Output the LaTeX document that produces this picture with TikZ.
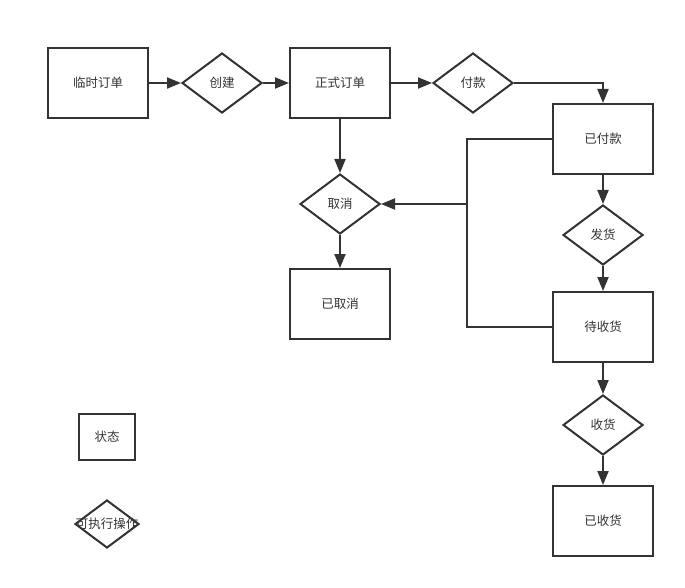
\documentclass[tikz,border=0pt]{standalone}
\usepackage{fontspec}
\newfontfamily\cjk{Noto Sans CJK SC}
\usetikzlibrary{shapes.geometric,arrows.meta}
\definecolor{linie}{HTML}{333333}
\tikzset{
  zustand/.style={draw=linie, line width=2pt, minimum width=100pt, minimum height=70pt,
    inner sep=0pt, font=\cjk\fontsize{12.5}{14}\selectfont, text=linie},
  aktion/.style={draw=linie, line width=2pt, diamond, minimum width=80pt, minimum height=60pt,
    inner sep=0pt, font=\cjk\fontsize{12.5}{14}\selectfont, text=linie},
  pfeil/.style={draw=linie, line width=2pt, -{Triangle[length=14pt, width=11pt]}},
  linie/.style={draw=linie, line width=2pt}
}
\begin{document}
\begin{tikzpicture}[x=1pt, y=-1pt]
  \useasboundingbox (0,0) rectangle (685,588);

  % Zustaende und Aktionen oben
  \node[zustand] (linshi) at (98,83) {临时订单};
  \node[aktion] (chuangjian) at (222,83) {创建};
  \node[zustand] (zhengshi) at (340,83) {正式订单};
  \node[aktion] (fukuan) at (473,83) {付款};

  % rechte Spalte
  \node[zustand] (yifukuan) at (603,139) {已付款};
  \node[aktion] (fahuo) at (603,235) {发货};
  \node[zustand] (daishouhuo) at (603,327) {待收货};
  \node[aktion] (shouhuo) at (603,425) {收货};
  \node[zustand] (yishouhuo) at (603,521) {已收货};

  % Stornierung
  \node[aktion] (quxiao) at (340,204) {取消};
  \node[zustand] (yiquxiao) at (340,304) {已取消};

  % Legende
  \node[zustand, minimum width=56pt, minimum height=46pt] (legzustand) at (107,437) {状态};
  \node[aktion, minimum width=64pt, minimum height=48pt] (legaktion) at (107,524) {};
  \node[font=\cjk\fontsize{12.5}{14}\selectfont, text=linie, inner sep=0pt] (legtext) at (legaktion) {可执行操作};

  % Pfeile
  \draw[pfeil] (linshi) -- (chuangjian);
  \draw[pfeil] (chuangjian) -- (zhengshi);
  \draw[pfeil] (zhengshi) -- (fukuan);
  \draw[pfeil] (fukuan.east) -| (yifukuan.north);
  \draw[pfeil] (yifukuan) -- (fahuo);
  \draw[pfeil] (fahuo) -- (daishouhuo);
  \draw[pfeil] (daishouhuo) -- (shouhuo);
  \draw[pfeil] (shouhuo) -- (yishouhuo);
  \draw[pfeil] (zhengshi) -- (quxiao);
  \draw[pfeil] (quxiao) -- (yiquxiao);

  % Ruecklauf zum Abbrechen
  \coordinate (knick) at (467,204);
  \draw[linie] (yifukuan.west) -| (knick);
  \draw[linie] (daishouhuo.west) -| (knick);
  \draw[pfeil] (knick) -- (quxiao.east);
\end{tikzpicture}
\end{document}
